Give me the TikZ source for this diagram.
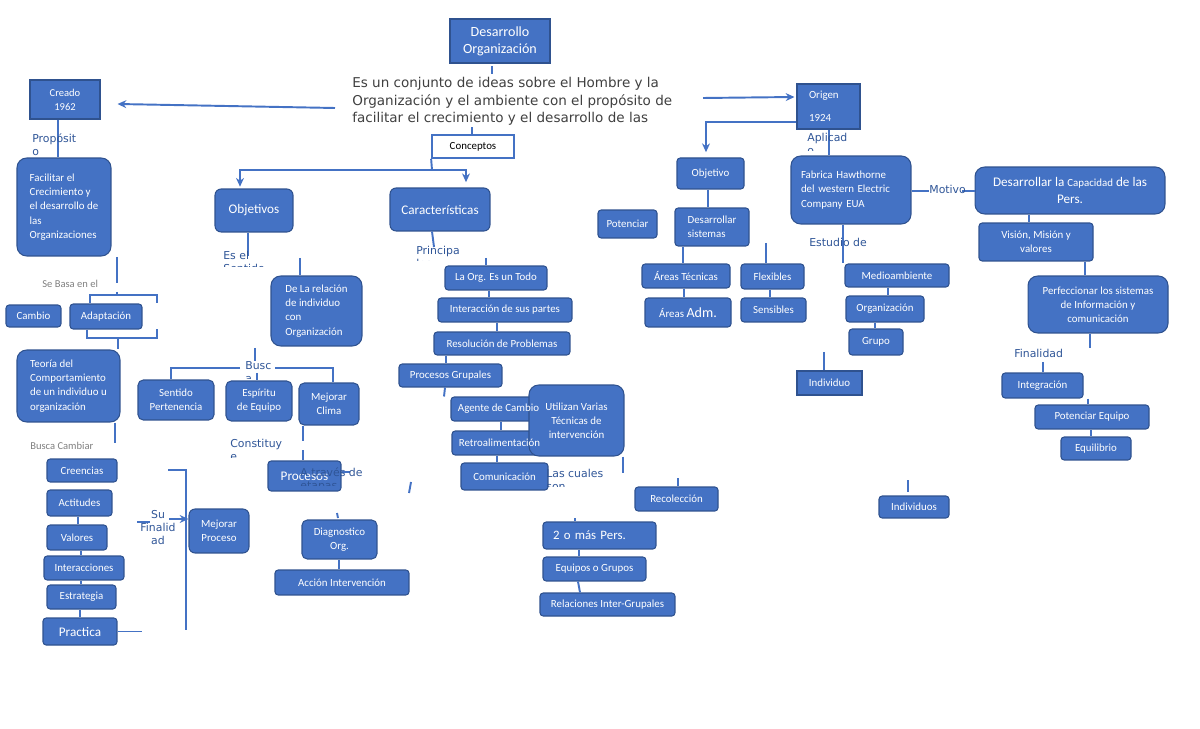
\documentclass[tikz,border=0pt]{standalone}
\usepackage{fontspec}
\setmainfont{Carlito}
\newfontfamily\dejavu{DejaVu Sans}
\usetikzlibrary{arrows.meta}

\definecolor{boxfill}{HTML}{4472C4}
\definecolor{boxline}{HTML}{2F528F}
\definecolor{linkblue}{HTML}{4472C4}
\definecolor{lblblue}{HTML}{2F5597}
\definecolor{lblgray}{HTML}{7F7F7F}
\definecolor{deftext}{HTML}{404040}

\tikzset{
  bx/.style={draw=boxline, fill=boxfill, text=white, line width=0.6pt, rounded corners=1.8pt,
    inner sep=1pt, align=center, font=\fontsize{6.2}{8.1}\selectfont},
  rbx/.style={bx, rounded corners=5.5pt},
  sqbx/.style={bx, sharp corners},
  big/.style={font=\fontsize{7.5}{9}\selectfont},
  bxtext/.style={text=white, inner sep=1pt, font=\fontsize{6.2}{8.1}\selectfont},
  lnk/.style={draw=linkblue, line width=1.1pt},
  arr/.style={lnk, -{Stealth[length=5pt,width=4.5pt]}},
  lbl/.style={text=lblblue, inner sep=0pt, align=left, font=\dejavu\fontsize{6.2}{7.4}\selectfont},
  glbl/.style={text=lblgray, inner sep=0pt, font=\fontsize{6}{7}\selectfont}
}

\begin{document}
\begin{tikzpicture}[x=0.02cm, y=-0.02cm]
\useasboundingbox (0,0) rectangle (1200,729);

% title and definition
\node[sqbx, font=\fontsize{8}{9.6}\selectfont, minimum width=2cm, minimum height=0.88cm] (desorg) at (500,41) {Desarrollo\\Organización};
\node[text=deftext, anchor=north west, inner sep=0pt, align=left, font=\dejavu\fontsize{7.7}{9.9}\selectfont] (defn) at (352,77)
  {Es un conjunto de ideas sobre el Hombre y la\\Organización y el ambiente con el propósito de\\facilitar el crecimiento y el desarrollo de las};
\coordinate (defnL) at (335,108);
\coordinate (defnR) at (703,98);
\node[sqbx, fill=white, draw=linkblue, text=black, line width=1pt, minimum width=1.64cm, minimum height=0.46cm] (concep) at (473,146.5) {Conceptos};

% left column
\node[sqbx, font=\fontsize{6}{8}\selectfont, minimum width=1.4cm, minimum height=0.78cm] (creado) at (65,99.5) {Creado\\1962};
\node[rbx, align=left, minimum width=1.88cm, minimum height=1.96cm] (facil) at (64,207) {Facilitar el\\Crecimiento y\\el desarrollo de\\las\\Organizaciones};
\node[bx, minimum width=1.1cm, minimum height=0.44cm] (cambio) at (33.5,316) {Cambio};
\node[bx, minimum width=1.44cm, minimum height=0.5cm] (adapt) at (106,316.5) {Adaptación};
\node[rbx, align=left, minimum width=2.06cm, minimum height=1.44cm] (teoria) at (68.5,386) {Teoría del\\Comportamiento\\de un individuo u\\organización};
\node[bx, minimum width=1.4cm, minimum height=0.46cm] (creen) at (82,470.5) {Creencias};
\node[bx, minimum width=1.3cm, minimum height=0.52cm] (actit) at (79.5,503) {Actitudes};
\node[bx, minimum width=1.2cm, minimum height=0.5cm] (valor) at (77,537.5) {Valores};
\node[bx, minimum width=1.6cm, minimum height=0.48cm] (inter) at (84,568) {Interacciones};
\node[bx, minimum width=1.38cm, minimum height=0.48cm] (estra) at (81.5,597) {Estrategia};
\node[bx, big, minimum width=1.48cm, minimum height=0.54cm] (pract) at (80,631.5) {Practica};
\node[bx, rounded corners=3.5pt, minimum width=1.2cm, minimum height=0.88cm] (mejproc) at (219,531) {Mejorar\\Proceso};

% objetivos branch
\node[bx, big, rounded corners=3.5pt, minimum width=1.56cm, minimum height=0.86cm] (objtv) at (254,210.5) {Objetivos};
\node[rbx, align=left, minimum width=1.82cm, minimum height=1.4cm] (relac) at (316.5,311) {De La relación\\de individuo\\con\\Organización};
\node[bx, rounded corners=3pt, minimum width=1.52cm, minimum height=0.8cm] (sentido) at (176,400) {Sentido\\Pertenencia};
\node[bx, rounded corners=3pt, minimum width=1.32cm, minimum height=0.8cm] (espir) at (259,401) {Espíritu\\de Equipo};
\node[bx, rounded corners=3pt, minimum width=1.2cm, minimum height=0.84cm] (mclima) at (329,404) {Mejorar\\Clima};
\node[bx, big, minimum width=1.46cm, minimum height=0.6cm] (proces) at (304.5,476) {Procesos};
\node[bx, rounded corners=3pt, minimum width=1.5cm, minimum height=0.78cm] (diag) at (339.5,539.5) {Diagnostico\\Org.};
\node[bx, minimum width=2.68cm, minimum height=0.5cm] (accion) at (342,582.5) {Acción Intervención};

% caracteristicas branch
\node[bx, big, rounded corners=3.5pt, minimum width=2cm, minimum height=0.86cm] (caract) at (440,209.5) {Características};
\node[bx, minimum width=2.04cm, minimum height=0.48cm] (laorg) at (496,278) {La Org. Es un Todo};
\node[bx, minimum width=2.68cm, minimum height=0.48cm] (partes) at (505,310) {Interacción de sus partes};
\node[bx, minimum width=2.72cm, minimum height=0.46cm] (resol) at (502,343.5) {Resolución de Problemas};
\node[bx, minimum width=2.06cm, minimum height=0.46cm] (pgrup) at (450.5,375.5) {Procesos Grupales};
\node[bx, minimum width=1.9cm, minimum height=0.48cm] (agentebx) at (498.5,409) {};
\node[bx, minimum width=1.9cm, minimum height=0.48cm] (retrobx) at (499.5,443) {};
\node[bx, minimum width=1.74cm, minimum height=0.54cm] (comun) at (504.5,476.5) {Comunicación};
\node[rbx, minimum width=1.9cm, minimum height=1.42cm] (utiliz) at (576.5,420.5) {Utilizan Varias\\Técnicas de\\intervención};
% their texts lie over the big box
\node[bxtext] (agente) at (agentebx) {Agente de Cambio};
\node[bxtext] (retro) at (retrobx) {Retroalimentación};
\node[bx, minimum width=1.66cm, minimum height=0.48cm] (recol) at (676.5,499) {Recolección};
\node[bx, font=\fontsize{7.3}{9}\selectfont, align=left, text width=1.86cm, inner xsep=0.2cm, minimum height=0.54cm] (dosmas) at (599.5,535.5) {2 o más Pers.};
\node[bx, minimum width=2.06cm, minimum height=0.48cm] (equipos) at (594.5,569) {Equipos o Grupos};
\node[bx, minimum width=2.7cm, minimum height=0.46cm] (intgrup) at (607.5,604.5) {Relaciones Inter-Grupales};

% origen branch
\node[sqbx, align=left, text width=0.78cm, inner xsep=0.24cm, minimum height=0.9cm] (origen) at (828.5,106.5) {Origen\\[5pt]1924};
\node[bx, minimum width=1.34cm, minimum height=0.62cm] (objtv2) at (710.5,173.5) {Objetivo};
\node[bx, align=left, minimum width=1.48cm, minimum height=0.76cm] (dsist) at (712,227) {Desarrollar\\sistemas};
\node[bx, minimum width=1.18cm, minimum height=0.56cm] (potenc) at (627.5,224) {Potenciar};
\node[bx, minimum width=1.76cm, minimum height=0.48cm] (atec) at (686,276) {Áreas Técnicas};
\node[bx, minimum width=1.72cm, minimum height=0.58cm] (aadm) at (688,312.5) {Áreas {\fontsize{8}{9}\selectfont Adm.}};
\node[bx, minimum width=1.26cm, minimum height=0.5cm] (flex) at (772.5,276.5) {Flexibles};
\node[bx, minimum width=1.3cm, minimum height=0.48cm] (sensib) at (773.5,310) {Sensibles};
\node[rbx, align=left, text width=2.0cm, inner xsep=0.2cm, minimum height=1.36cm] (fabrica) at (851,190) {Fabrica Hawthorne\\del western Electric\\Company EUA};
\node[bx, minimum width=2.08cm, minimum height=0.46cm] (medio) at (897,275.5) {Medioambiente};
\node[bx, minimum width=1.56cm, minimum height=0.52cm] (orgz) at (885,309) {Organización};
\node[bx, minimum width=1.08cm, minimum height=0.52cm] (grupo) at (876,342) {Grupo};
\node[sqbx, minimum width=1.3cm, minimum height=0.48cm] (indiv) at (829.5,383) {Individuo};
\node[bx, minimum width=1.4cm, minimum height=0.44cm] (indivs) at (914,507) {Individuos};
\node[rbx, font=\fontsize{7.5}{10.2}\selectfont, minimum width=3.8cm, minimum height=0.94cm] (capac) at (1070,190.5) {Desarrollar la {\fontsize{6.2}{8}\selectfont Capacidad} de las\\Pers.};
\node[bx, minimum width=2.28cm, minimum height=0.76cm] (vision) at (1036,242) {Visión, Misión y\\valores};
\node[rbx, minimum width=2.8cm, minimum height=1.14cm] (perfec) at (1098,304.5) {Perfeccionar los sistemas\\de Información y\\comunicación};
\node[bx, minimum width=1.62cm, minimum height=0.5cm] (integ) at (1042.5,385.5) {Integración};
\node[bx, minimum width=2.28cm, minimum height=0.48cm] (potequ) at (1092,417) {Potenciar Equipo};
\node[bx, minimum width=1.4cm, minimum height=0.46cm] (equil) at (1096,448.5) {Equilibrio};

% connectors, top
\draw[arr] (defnL) -- ([shift={(17,4.5)}]creado.east);
\draw[arr] (defnR) -- ([shift={(-2,-9.5)}]origen.west);
\draw[lnk] (492,66) -- (492,74);
\draw[lnk] (472,0 |- concep.north) -- (472,127);
\draw[lnk] (concep.south west) -- (432,170);
\draw[arr, shorten >=1pt] (432,170) -- (240,170) -- (240,0 |- objtv.north);
\draw[arr, shorten >=3pt] (432,170) -- (466,170) -- (466,0 |- caract.north);

% connectors, left
\draw[lnk] (58,0 |- creado.south) -- (58,0 |- facil.north);
\draw[lnk] (117,257) -- (117,283);
\draw[lnk] (117,292) -- (117,295);
\draw[lnk] (90,0 |- adapt.north) -- (90,295) -- (157,295) -- (157,303);
\draw[lnk] (87,0 |- adapt.south) -- (87,338) -- (157,338) -- (157,329);
\draw[lnk] (118,338) -- (118,0 |- teoria.north);
\draw[lnk] (115,0 |- teoria.south) -- (115,443);
\draw[lnk] (78,0 |- actit.south) -- (78,0 |- valor.north);
\draw[lnk] (81,0 |- valor.south) -- (81,0 |- inter.north);
\draw[lnk] (81,0 |- inter.south) -- (81,0 |- estra.north);
\draw[lnk] (80,0 |- estra.south) -- (80,0 |- pract.north);
\draw[lnk] (pract.east) -- (142,0 |- pract.east);
\draw[lnk] (168,470) -- (186,470) -- (186,630);
\draw[lnk] (137,522) -- (150,522);
\draw[arr] (169,519) -- (mejproc.west |- 0,519);

% connectors, objetivos
\draw[lnk] (248,0 |- objtv.south) -- (248,256);
\draw[lnk] (300,258) -- (300,0 |- relac.north);
\draw[lnk] (255,348) -- (255,361);
\draw[lnk] (240,368) -- (171,368) -- (171,0 |- sentido.north);
\draw[lnk] (275,368) -- (333,368) -- (333,0 |- mclima.north);
\draw[lnk] (257,373) -- (257,0 |- espir.north);
\draw[lnk] (303,0 |- mclima.south) -- (303,441);
\draw[lnk] (303,450) -- (303,0 |- proces.north);
\draw[lnk] (proces.east |- 0,472) -- (350,472);
\draw[lnk] (337,513) -- (338,518);
\draw[lnk] (339,0 |- diag.south) -- (339,0 |- accion.north);
\draw[lnk] (411,482) -- (409,493);

% connectors, caracteristicas
\draw[lnk] (432,0 |- caract.south) -- (434,247);
\draw[lnk] (486,258) -- (486,0 |- laorg.north);
\draw[lnk] (489,0 |- laorg.south) -- (489,0 |- partes.north);
\draw[lnk] (497,0 |- partes.south) -- (497,0 |- resol.north);
\draw[lnk] (446,0 |- resol.south) -- (446,0 |- pgrup.north);
\draw[lnk] (445,0 |- pgrup.south) -- (444,0 |- agentebx.north);
\draw[lnk] (501,0 |- agentebx.south) -- (501,0 |- retrobx.north);
\draw[lnk] (497,0 |- retrobx.south) -- (497,0 |- comun.north);
\draw[lnk] (623,0 |- utiliz.south) -- (623,473);
\draw[lnk] (678,478) -- (678,0 |- recol.north);
\draw[lnk] (575,518) -- (575,0 |- dosmas.north);
\draw[lnk] (579,0 |- dosmas.south) -- (579,0 |- equipos.north);
\draw[lnk] (578,0 |- equipos.south) -- (580,0 |- intgrup.north);

% connectors, origen
\draw[arr, shorten >=3pt] (origen.west |- 0,122) -- (706,122) -- (706,0 |- objtv2.north);
\draw[lnk] (829,0 |- origen.south) -- (829,0 |- fabrica.north);
\draw[lnk] (708,0 |- objtv2.south) -- (708,0 |- dsist.north);
\draw[lnk] (683,0 |- dsist.south) -- (683,0 |- atec.north);
\draw[lnk] (684,0 |- atec.south) -- (684,0 |- aadm.north);
\draw[lnk] (766,243) -- (766,0 |- flex.north);
\draw[lnk] (770,0 |- flex.south) -- (770,0 |- sensib.north);
\draw[lnk] (843,0 |- fabrica.south) -- (843,0 |- medio.north);
\draw[lnk] (888,0 |- medio.south) -- (888,0 |- orgz.north);
\draw[lnk] (875,0 |- orgz.south) -- (875,0 |- grupo.north);
\draw[lnk] (824,352) -- (824,0 |- indiv.north);
\draw[lnk] (908,480) -- (908,492);
\draw[lnk] (fabrica.east |- 0,191) -- (929,191);
\draw[lnk] (962,191) -- (capac.west |- 0,191);
\draw[lnk] (1029,0 |- capac.south) -- (1029,0 |- vision.north);
\draw[lnk] (1085,0 |- vision.south) -- (1085,0 |- perfec.north);
\draw[lnk] (1090,0 |- perfec.south) -- (1090,348);
\draw[lnk] (1043,362) -- (1043,0 |- integ.north);
\draw[lnk] (1088,0 |- integ.south) -- (1088,0 |- potequ.north);
\draw[lnk] (1091,0 |- potequ.south) -- (1091,0 |- equil.north);

% labels on the lines
\node[lbl, anchor=north west] (propos) at (32,133) {Propósit\\o};
\node[glbl, anchor=north west] (sebasa) at (42,280) {Se Basa en el};
\node[glbl, anchor=north west] (bcambio) at (30,442) {Busca Cambiar};
\node[lbl, anchor=north, align=center] (sufin) at (158,510) {Su\\Finalid\\ad};
\node[lbl, anchor=north west] (estud) at (809,238) {Estudio de};
\node[lbl, anchor=north west] (motivo) at (929,185) {Motivo};
\node[lbl, anchor=north west] (finali) at (1014,349) {Finalidad};
\begin{scope}
  \clip (215,245) rectangle (300,267);
  \node[lbl, anchor=north west] (esel) at (223,251) {Es el\\Sentido};
\end{scope}
\begin{scope}
  \clip (410,240) rectangle (480,261);
  \node[lbl, anchor=north west] (princ) at (416,246) {Principa\\les};
\end{scope}
\begin{scope}
  \clip (240,355) rectangle (275,379);
  \node[lbl, anchor=north west] (busca) at (245,361) {Busc\\a};
\end{scope}
\begin{scope}
  \clip (225,432) rectangle (300,457);
  \node[lbl, anchor=north west] (const) at (230,439) {Constituy\\e};
\end{scope}
\begin{scope}
  \clip (295,460) rectangle (370,485);
  \node[lbl, anchor=north west] (atrav) at (300,467) {A través de\\etapas};
\end{scope}
\begin{scope}
  \clip (540,462) rectangle (610,486);
  \node[lbl, anchor=north west] (cuales) at (546,469) {Las cuales\\son};
\end{scope}
\begin{scope}
  \clip (800,128) rectangle (860,151);
  \node[lbl, anchor=north west] (aplic) at (807,133) {Aplicad\\o};
\end{scope}
\end{tikzpicture}
\end{document}
